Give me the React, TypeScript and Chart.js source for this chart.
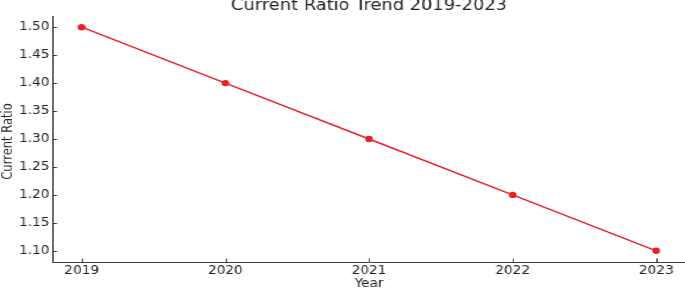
import React, { useEffect, useRef } from "react";
import { Chart, registerables } from "chart.js";

Chart.register(...registerables);

const years = [2019, 2020, 2021, 2022, 2023];
const currentRatio = [1.5, 1.4, 1.3, 1.2, 1.1];
const yTicks = [1.1, 1.15, 1.2, 1.25, 1.3, 1.35, 1.4, 1.45, 1.5];
const titleText = "Current Ratio Trend 2019-2023";
const xLabel = "Year";
const yLabel = "Current Ratio";

const W = 576;
const H = 288;
const STRETCH = 685 / 576;
const FONT = "'DejaVu Sans', sans-serif";
const TEXT = "#222222";
const AXIS = "#3c3c3c";
const RED = "rgb(228,34,40)";

const decor = {
  id: "decor",
  afterDraw(chart: any) {
    const { ctx, chartArea, scales } = chart;
    const cx = (chartArea.left + chartArea.right) / 2;
    ctx.save();
    // inward tick marks
    ctx.strokeStyle = AXIS;
    ctx.lineWidth = 1;
    ctx.beginPath();
    years.forEach((y) => {
      const px = Math.round(scales.x.getPixelForValue(y)) + 0.5;
      ctx.moveTo(px, chartArea.bottom);
      ctx.lineTo(px, chartArea.bottom - 3.5);
    });
    yTicks.forEach((v) => {
      const py = Math.round(scales.y.getPixelForValue(v)) + 0.5;
      ctx.moveTo(chartArea.left, py);
      ctx.lineTo(chartArea.left + 3.5, py);
    });
    ctx.stroke();
    // title
    ctx.fillStyle = TEXT;
    ctx.textAlign = "center";
    ctx.textBaseline = "alphabetic";
    ctx.font = `15px ${FONT}`;
    ctx.fillText(titleText, cx, 10);
    // x label
    ctx.font = `11.5px ${FONT}`;
    ctx.fillText(xLabel, cx, 287);
    // y label
    ctx.translate(9.5, 141.5);
    ctx.rotate(-Math.PI / 2);
    ctx.font = `11.5px ${FONT}`;
    ctx.fillText(yLabel, 0, 0);
    ctx.restore();
  },
};

export default function App() {
  const ref = useRef<HTMLCanvasElement>(null);
  useEffect(() => {
    if (!ref.current) return;
    const chart = new Chart(ref.current, {
      type: "line",
      data: {
        datasets: [
          {
            data: years.map((y, i) => ({ x: y, y: currentRatio[i] })),
            borderColor: RED,
            backgroundColor: RED,
            borderWidth: 1.4,
            pointRadius: 3.2,
            pointBorderWidth: 0,
            pointBackgroundColor: RED,
            tension: 0,
          },
        ],
      },
      options: {
        responsive: false,
        animation: false,
        devicePixelRatio: 1,
        layout: { autoPadding: false, padding: { left: 0, top: 16, right: 0, bottom: 0 } },
        plugins: {
          legend: { display: false },
          tooltip: { enabled: false },
          title: { display: false },
        },
        scales: {
          x: {
            type: "linear",
            min: 2018.8,
            max: 2023.2,
            grid: { display: false, drawTicks: false },
            border: { display: true, color: AXIS, width: 1 },
            afterBuildTicks: (s: any) => {
              s.ticks = years.map((v) => ({ value: v }));
            },
            afterFit: (s: any) => {
              s.height = 26;
            },
            ticks: {
              autoSkip: false,
              maxRotation: 0,
              padding: 2.5,
              color: TEXT,
              font: { family: FONT, size: 11.5 },
              callback: (v: any) => String(v),
            },
          },
          y: {
            type: "linear",
            min: 1.08,
            max: 1.52,
            grid: { display: false, drawTicks: false },
            border: { display: true, color: AXIS, width: 1 },
            afterBuildTicks: (s: any) => {
              s.ticks = yTicks.map((v) => ({ value: v }));
            },
            afterFit: (s: any) => {
              s.width = 44.6;
            },
            ticks: {
              autoSkip: false,
              padding: 3,
              color: TEXT,
              font: { family: FONT, size: 11.5 },
              callback: (v: any) => Number(v).toFixed(2),
            },
          },
        },
      },
      plugins: [decor],
    });
    return () => chart.destroy();
  }, []);
  return (
    <div
      style={{
        position: "absolute",
        left: 0,
        top: 0,
        width: W,
        height: H,
        transform: `scaleX(${STRETCH})`,
        transformOrigin: "0 0",
        background: "#fff",
      }}
    >
      <canvas ref={ref} width={W} height={H} style={{ width: W, height: H, display: "block" }} />
    </div>
  );
}
